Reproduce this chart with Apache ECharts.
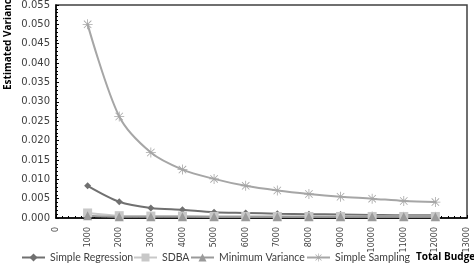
<!DOCTYPE html>
<html><head><meta charset="utf-8">
<script src="https://cdn.jsdelivr.net/npm/echarts@6/dist/echarts.min.js"></script>
<style>html,body{margin:0;padding:0;background:#fff}#c{width:474px;height:265px}</style>
</head><body><div id="c"></div>
<script>
const budgets = [1000,2000,3000,4000,5000,6000,7000,8000,9000,10000,11000,12000];
const simpleRegression = [0.0083,0.0042,0.0026,0.0021,0.0015,0.0013,0.0011,0.0010,0.0009,0.0008,0.0007,0.0007];
const sdba = [0.0013,0.0006,0.0005,0.0005,0.0004,0.0004,0.0004,0.0004,0.0004,0.0004,0.0004,0.0004];
const minimumVariance = [0.0006,0.0003,0.0003,0.0003,0.0003,0.0003,0.0003,0.0003,0.0003,0.0003,0.0003,0.0003];
const simpleSampling = [0.0500,0.0262,0.0169,0.0125,0.0101,0.0083,0.0071,0.0062,0.0055,0.0050,0.0044,0.0041];
const seriesNames = ['Simple Regression','SDBA','Minimum Variance','Simple Sampling'];
const yTicks = {min:0, max:0.055, interval:0.005};
const xTicks = {min:0, max:13000, interval:1000};

const star = 'path://M9.2,0 L10.8,0 L10.8,20 L9.2,20 Z M2,3.1 L3.1,2 L18,16.9 L16.9,18 Z M16.9,2 L18,3.1 L3.1,18 L2,16.9 Z M0,9.2 L20,9.2 L20,10.8 L0,10.8 Z';
const pair = a => budgets.map((b,i)=>[b,a[i]]);
const chart = echarts.init(document.getElementById('c'));
const lineSeries = (name, data, color, symbol, size) => ({
  name, type:'line', data:pair(data), smooth:0.3, symbol, symbolSize:size,
  lineStyle:{color, width:2}, itemStyle:{color}, emphasis:{disabled:true}
});
const legendLefts = [21, 133, 190, 306];
const legends = seriesNames.map((n,i)=>({
  left:legendLefts[i], top:252, itemWidth:23, itemHeight:10, itemGap:4, padding:0,
  textStyle:{fontFamily:'Lato', fontSize:10.5, color:'#404040'}, data:[n]
}));
chart.setOption({
  animation:false,
  grid:{left:56, right:7, top:3, bottom:47, show:true, borderColor:'#404040', borderWidth:1.5},
  xAxis:{type:'value', min:xTicks.min, max:xTicks.max, interval:xTicks.interval,
    axisLine:{lineStyle:{color:'#000', width:1.5}}, axisTick:{inside:true, length:3, lineStyle:{color:'#000'}},
    minorTick:{show:true, splitNumber:5, length:2, lineStyle:{color:'#000'}},
    splitLine:{show:false},
    axisLabel:{rotate:90, fontFamily:'DejaVu Sans', fontSize:8, color:'#404040', margin:9,
      formatter:v=>String(v)}},
  yAxis:{type:'value', min:yTicks.min, max:yTicks.max, interval:yTicks.interval,
    axisLine:{show:true, lineStyle:{color:'#000', width:1.5}}, axisTick:{show:true, inside:true, length:3, lineStyle:{color:'#000'}},
    minorTick:{show:true, splitNumber:5, length:2, lineStyle:{color:'#000'}},
    splitLine:{show:false},
    axisLabel:{fontFamily:'DejaVu Sans', fontSize:10, color:'#404040', margin:6, formatter:v=>v.toFixed(3)}},
  legend:legends,
  graphic:[
    {type:'text', left:416, top:252, style:{text:'Total Budget', font:'bold 10px "Open Sans"', fill:'#000'}},
    {type:'text', x:3, y:90, rotation:Math.PI/2, style:{text:'Estimated Variance', font:'bold 10px "Open Sans"', fill:'#000', textAlign:'left', textVerticalAlign:'top'}}
  ],
  series:[
    lineSeries(seriesNames[0], simpleRegression, '#707070', 'diamond', 7),
    lineSeries(seriesNames[1], sdba, '#c8c8c8', 'rect', 9),
    lineSeries(seriesNames[2], minimumVariance, '#9a9a9a', 'triangle', 9),
    lineSeries(seriesNames[3], simpleSampling, '#a6a6a6', star, 10)
  ]
});
</script></body></html>
